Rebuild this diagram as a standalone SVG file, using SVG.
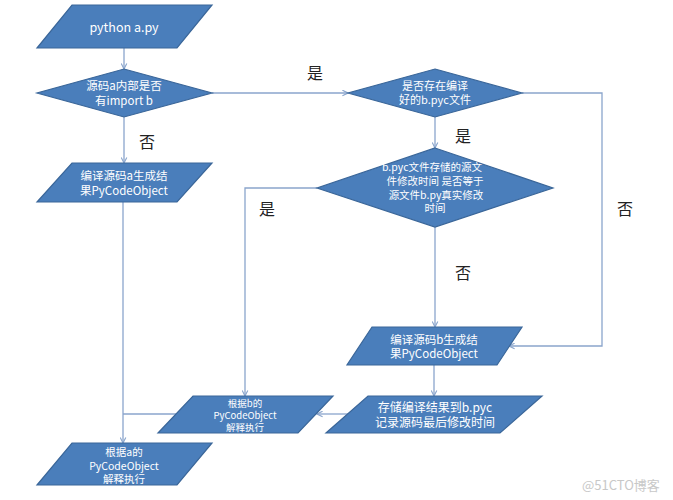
<svg xmlns="http://www.w3.org/2000/svg" width="673" height="500" viewBox="0 0 673 500">
<style>
.node{fill:#4A7EBB;stroke:#3A6699;stroke-width:1.2}
.t{fill:#ffffff;font-family:"Noto Sans CJK SC","Noto Sans",sans-serif;font-size:11px;text-anchor:middle}
.lbl{fill:#222222;font-family:"Noto Sans CJK SC",sans-serif;font-size:16px;text-anchor:middle}
.c{fill:none;stroke:#8AA5CC;stroke-width:1.3}
.wm{fill:#c8c8c8;font-family:"Noto Sans CJK SC",sans-serif;font-size:13px}
</style>
<defs>
<marker id="arr" viewBox="0 0 10 10" refX="9" refY="5" markerWidth="7" markerHeight="7" markerUnits="userSpaceOnUse" orient="auto">
<path d="M1,1 L9,5 L1,9" fill="none" stroke="#8AA5CC" stroke-width="1.6"/>
</marker>
</defs>
<rect width="673" height="500" fill="#ffffff"/>
<g id="connectors">
<path class="c" d="M124,48 L124,69" marker-end="url(#arr)"/>
<path class="c" d="M124,117 L124,163" marker-end="url(#arr)"/>
<path class="c" d="M212,93 L348,93" marker-end="url(#arr)"/>
<path class="c" d="M435,117 L435,148" marker-end="url(#arr)"/>
<path class="c" d="M317,188 L245,188 L245,396" marker-end="url(#arr)"/>
<path class="c" d="M435,227 L435,327" marker-end="url(#arr)"/>
<path class="c" d="M522,93 L602,93 L602,346 L509,346" marker-end="url(#arr)"/>
<path class="c" d="M434,365 L434,396" marker-end="url(#arr)"/>
<path class="c" d="M348,414 L317,414" marker-end="url(#arr)"/>
<path class="c" d="M176,414 L123,414"/>
<path class="c" d="M123,202 L123,443" marker-end="url(#arr)"/>
</g>
<g id="labels">
<text class="lbl" x="315" y="79">是</text>
<text class="lbl" x="147" y="148">否</text>
<text class="lbl" x="463" y="142">是</text>
<text class="lbl" x="267" y="215">是</text>
<text class="lbl" x="625" y="215">否</text>
<text class="lbl" x="463" y="279">否</text>
</g>
<g id="n1">
<polygon class="node" points="72,5 212,5 177,48 37,48"/>
<text class="t" x="124" y="32" style="font-size:12.5px">python a.py</text>
</g>
<g id="n2">
<polygon class="node" points="124,69 212,93 124,117 37,93"/>
<text class="t" x="124" y="90" style="font-size:11.5px">源码a内部是否</text>
<text class="t" x="124" y="105" style="font-size:11.5px">有import b</text>
</g>
<g id="n3">
<polygon class="node" points="72,163 212,163 177,202 37,202"/>
<text class="t" x="124" y="180" style="font-size:11.5px">编译源码a生成结</text>
<text class="t" x="124" y="195" style="font-size:11.5px">果PyCodeObject</text>
</g>
<g id="n4">
<polygon class="node" points="435,69 522,93 435,117 348,93"/>
<text class="t" x="435" y="90">是否存在编译</text>
<text class="t" x="435" y="104">好的b.pyc文件</text>
</g>
<g id="n5">
<polygon class="node" points="435,148 553,188 435,227 317,188"/>
<text class="t" x="432" y="171" style="font-size:10.5px">b.pyc文件存储的源文</text>
<text class="t" x="435" y="185" style="font-size:10.5px">件修改时间 是否等于</text>
<text class="t" x="436" y="199" style="font-size:10.5px">源文件b.py真实修改</text>
<text class="t" x="435" y="212" style="font-size:10.5px">时间</text>
</g>
<g id="n6">
<polygon class="node" points="372,327 522,327 497,365 347,365"/>
<text class="t" x="434" y="344" style="font-size:11.5px">编译源码b生成结</text>
<text class="t" x="434" y="358" style="font-size:11.5px">果PyCodeObject</text>
</g>
<g id="n7">
<polygon class="node" points="368,396 542,396 500,433 326,433"/>
<text class="t" x="435" y="412" style="font-size:12px">存储编译结果到b.pyc</text>
<text class="t" x="435" y="427" style="font-size:12px">记录源码最后修改时间</text>
</g>
<g id="n8">
<polygon class="node" points="193,396 333,396 298,433 158,433"/>
<text class="t" x="245" y="407" style="font-size:9.5px">根据b的</text>
<text class="t" x="245" y="419" style="font-size:9.5px">PyCodeObject</text>
<text class="t" x="245" y="431" style="font-size:9.5px">解释执行</text>
</g>
<g id="n9">
<polygon class="node" points="72,443 212,443 177,485 37,485"/>
<text class="t" x="124" y="456" style="font-size:10.5px">根据a的</text>
<text class="t" x="124" y="469.5" style="font-size:10.5px">PyCodeObject</text>
<text class="t" x="124" y="483" style="font-size:10.5px">解释执行</text>
</g>
<text class="wm" x="582" y="490">@51CTO博客</text>
</svg>
